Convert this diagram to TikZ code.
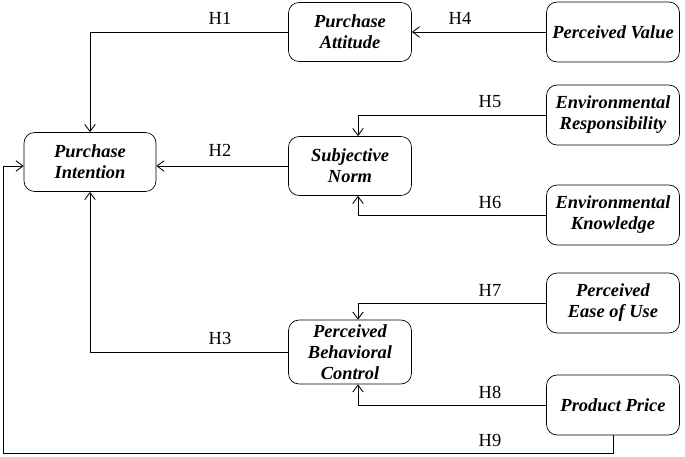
\documentclass[tikz,border=0pt]{standalone}
\usepackage{fontspec}
\setmainfont{Liberation Serif}
\usetikzlibrary{arrows.meta}
\begin{document}
\begin{tikzpicture}[x=0.02cm,y=-0.02cm,
  box/.style={draw,rounded corners=6pt,minimum width=2.46cm,minimum height=1.18cm,align=center,font=\bfseries\itshape\fontsize{10.5}{12}\selectfont,inner sep=2pt},
  rbox/.style={box,minimum width=2.66cm,minimum height=1.2cm},
  arr/.style={-{Straight Barb[length=4pt,width=6pt]},line width=0.5pt},
  lab/.style={font=\fontsize{10.5}{12}\selectfont}]
\useasboundingbox (0,0) rectangle (685,456);
\node[box] (pa) at (350,32) {Purchase\\Attitude};
\node[rbox] (pv) at (613,32) {Perceived Value};
\node[box,minimum width=2.64cm] (pi) at (90,162) {Purchase\\Intention};
\node[box] (sn) at (350,166) {Subjective\\Norm};
\node[rbox] (er) at (613,115) {Environmental\\Responsibility};
\node[rbox] (ek) at (613,215) {Environmental\\Knowledge};
\node[rbox] (pe) at (613,303) {Perceived\\Ease of Use};
\node[box,minimum height=1.28cm] (pb) at (350,352) {Perceived\\Behavioral\\Control};
\node[rbox] (pp) at (613,405) {Product Price};
\coordinate (c1) at (90,32);
\coordinate (c5) at (358,115);
\coordinate (c6) at (358,215);
\coordinate (c3) at (90,352);
\coordinate (c7) at (358,303);
\coordinate (c8) at (358,405);
\coordinate (c9a) at (613,453);
\coordinate (c9b) at (3,453);
\coordinate (c9c) at (3,166);
\draw[arr] (pa.west) -- (c1) -- (pi.north);
\draw[arr] (pv.west) -- (pa.east);
\draw[arr] (er.west) -- (c5) -- (c5 |- sn.north);
\draw[arr] (ek.west) -- (c6) -- (c6 |- sn.south);
\draw[arr] (sn.west) -- (sn.west -| pi.east);
\draw[arr] (pb.west) -- (c3) -- (pi.south);
\draw[arr] (pe.west) -- (c7) -- (c7 |- pb.north);
\draw[arr] (pp.west) -- (c8) -- (c8 |- pb.south);
\draw[arr] (pp.south) -- (c9a) -- (c9b) -- (c9c) -- (c9c -| pi.west);
\node[lab] at (220,18) {H1};
\node[lab] at (460,18) {H4};
\node[lab] at (490,102) {H5};
\node[lab] at (220,150) {H2};
\node[lab] at (490,202) {H6};
\node[lab] at (490,290) {H7};
\node[lab] at (220,338) {H3};
\node[lab] at (490,392) {H8};
\node[lab] at (490,440) {H9};
\end{tikzpicture}
\end{document}
